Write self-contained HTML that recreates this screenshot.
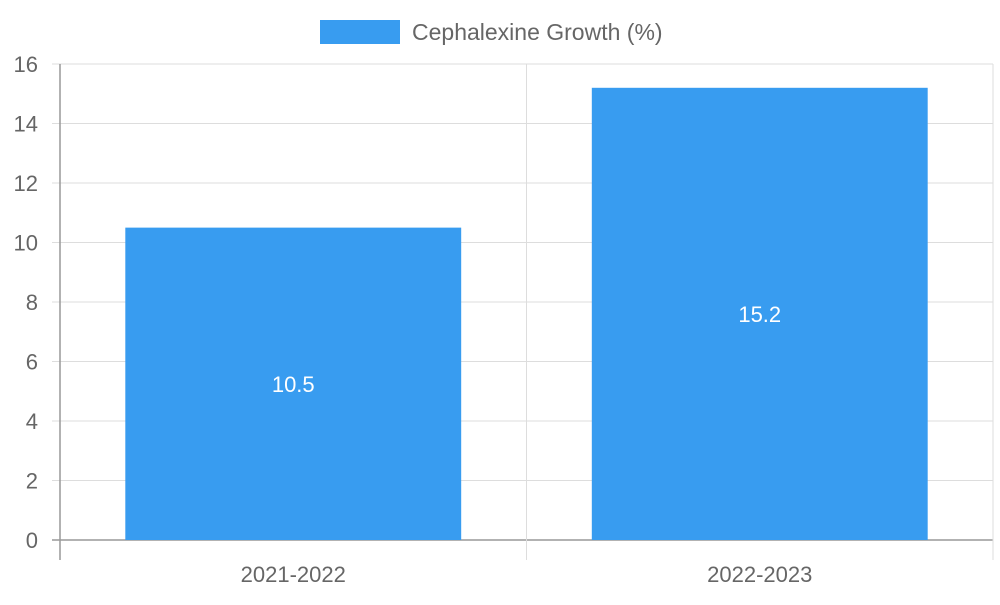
<!DOCTYPE html>
<html><head><meta charset="utf-8"><style>
body{margin:0;background:#fff;}
svg text{font-family:"Liberation Sans",sans-serif;}
</style></head><body>
<svg id="chart" width="1000" height="600">
<g id="legend">
<rect x="320" y="20" width="80" height="24" fill="#389cf0"/>
<text x="412" y="40" font-size="23" fill="#666">Cephalexine Growth (%)</text>
</g>
<g id="grid"></g><g id="bars"></g><g id="labels"></g>
</svg>
<script>
const categories=["2021-2022","2022-2023"];
const values=[10.5,15.2];
const yTicks=[0,2,4,6,8,10,12,14,16];
const L=60,R=993,T=64,B=540,yMax=16;
const ns="http://www.w3.org/2000/svg";
function y(v){return B-(v/yMax)*(B-T);}
const cw=(R-L)/categories.length;
function x(i){return L+cw*i;}
function mk(tag,attrs,parent,txt){const e=document.createElementNS(ns,tag);for(const k in attrs)e.setAttribute(k,attrs[k]);if(txt!==undefined)e.textContent=txt;document.getElementById(parent).appendChild(e);return e;}
yTicks.forEach(t=>{
 const g=mk("line",{x1:L-8,x2:R,y1:y(t),y2:y(t),stroke:t===0?"#999":"#ddd","stroke-width":t===0?1.5:1},"grid");
 
 
 const tl=mk("text",{x:L-22,y:y(t)+8,"font-size":22,fill:"#666","text-anchor":"end"},"grid",t);
 
 
});
for(let i=0;i<=categories.length;i++){
 const v=mk("line",{x1:x(i),x2:x(i),y1:T,y2:B+20,stroke:i===0?"#999":"#ddd","stroke-width":i===0?1.5:1},"grid");
 
 
}
categories.forEach((c,i)=>{
 const bw=cw*0.72,bx=x(i)+(cw-bw)/2;
 const r=mk("rect",{x:bx,y:y(values[i]),width:bw,height:B-y(values[i]),fill:"#389cf0"},"bars");
 
 
 const vl=mk("text",{x:bx+bw/2,y:(y(values[i])+B)/2+8,"font-size":22,fill:"#fff","text-anchor":"middle"},"labels",values[i]);
 
 
 const xl=mk("text",{x:x(i)+cw/2,y:582,"font-size":22,fill:"#666","text-anchor":"middle"},"labels",c);
 
 
});
</script>
</body></html>
